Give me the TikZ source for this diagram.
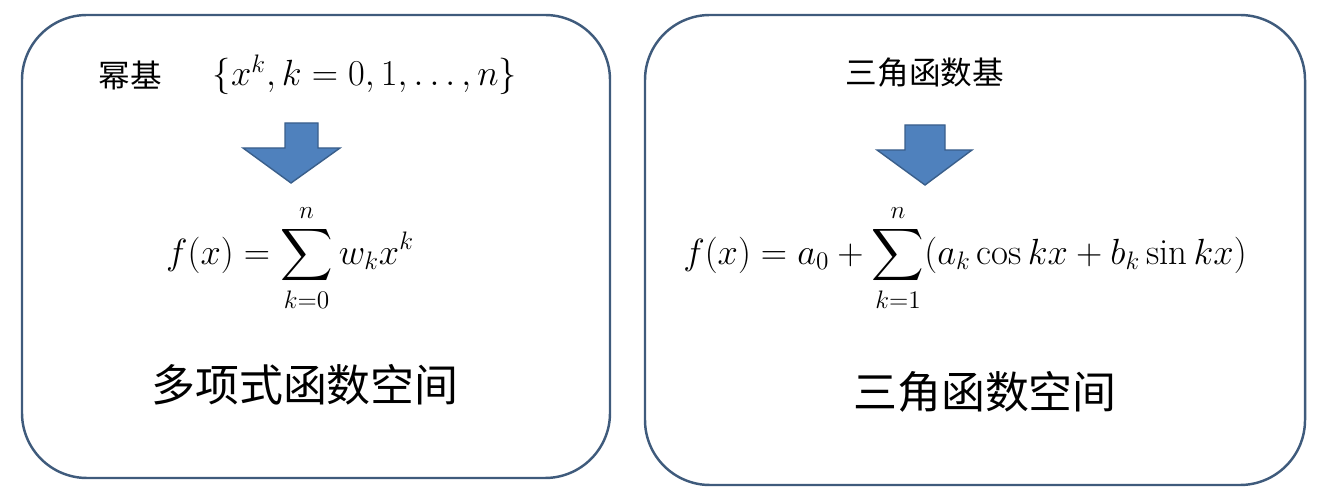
\documentclass[tikz,border=0pt]{standalone}
\usepackage{amsmath}
\usepackage{fontspec}
\newfontfamily\cjk{Noto Sans CJK SC}
\definecolor{boxline}{HTML}{3F5B7C}
\definecolor{arrfill}{HTML}{4F81BD}
\definecolor{arrline}{HTML}{3A5F8B}
\begin{document}
\begin{tikzpicture}[x=0.02cm,y=-0.02cm,
  panel/.style={draw=boxline,line width=1.4pt,rounded corners=1.3cm},
  blockarrow/.style={fill=arrfill,draw=arrline,line width=0.8pt},
  small/.style={font=\cjk\fontsize{18}{21}\selectfont},
  big/.style={font=\cjk\fontsize{25}{29}\selectfont},
  formula/.style={font=\fontsize{21}{25}\selectfont}]
\useasboundingbox (0,0) rectangle (1321,492);
\draw[panel] (22,15) rectangle (610,478);
\draw[panel] (645,15) rectangle (1305,485);
\node[small] (t1) at (130,75) {幂基};
\node[formula] (s1) at (365,75) {$\{x^k, k=0,1,\ldots,n\}$};
\draw[blockarrow] (285,123) -- (318,123) -- (318,148) -- (340,148) -- (291,183) -- (243,148) -- (285,148) -- cycle;
\node[formula] (f1) at (290,258) {$\displaystyle f(x)=\sum_{k=0}^{n} w_k x^k$};
\node[big] (b1) at (305,385) {多项式函数空间};
\node[small] (t2) at (925,73) {三角函数基};
\draw[blockarrow] (905,125) -- (945,125) -- (945,150) -- (972,150) -- (925,185) -- (877,150) -- (905,150) -- cycle;
\node[formula] (f2) at (965,258) {$\displaystyle f(x)=a_0+\sum_{k=1}^{n}(a_k\cos kx+b_k\sin kx)$};
\node[big] (b2) at (985,392) {三角函数空间};
\end{tikzpicture}
\end{document}
